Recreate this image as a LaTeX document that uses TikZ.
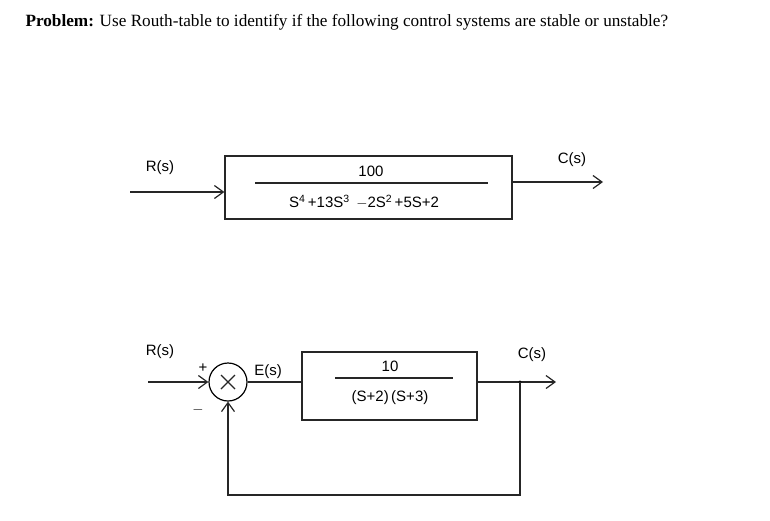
\documentclass[tikz,border=0pt]{standalone}
\usepackage{fontspec}
\setmainfont{Liberation Serif}
\newfontfamily\hand{Liberation Sans}
\usetikzlibrary{arrows.meta}
\begin{document}
\begin{tikzpicture}[x=1pt,y=-1pt,
  ln/.style={draw,line width=1.2pt,black!85},
  arr/.style={ln,-{Straight Barb[length=9pt,width=13pt,line width=1.2pt]}},
  lab/.style={font=\hand\fontsize{15}{17}\selectfont},
  blk/.style={draw,line width=1.2pt,black!85,inner sep=0pt}]
\useasboundingbox (0,0) rectangle (770,520);
\node[anchor=west,font=\fontsize{17.2}{19}\selectfont] (title) at (22,22) {\textbf{Problem:} Use Routh-table to identify if the following control systems are stable or unstable?};
% top
\node[blk,minimum width=287pt,minimum height=63pt] (g1) at (368.5,187.5) {};
\node[lab] (n1) at (371,171) {100};
\node[lab] (d1) at (364,202) {S\textsuperscript{4}\,+13S\textsuperscript{3}\, $-$2S\textsuperscript{2}\,+5S+2};
\draw[ln] (255,183) -- (488,183);
\coordinate (r1) at (130,192);
\draw[arr] (r1) -- (g1.west |- r1);
\node[lab] (R1) at (160,168) {R(s)};
\coordinate (c1) at (603,182);
\draw[arr] (g1.east |- c1) -- (c1);
\node[lab] (C1) at (572,160) {C(s)};
% bottom
\node[draw,circle,line width=1.2pt,minimum size=38pt,inner sep=0pt] (sum) at (228,382) {};
\draw[ln] ([shift={(-7,-7)}]sum.center) -- ([shift={(7,7)}]sum.center);
\draw[ln] ([shift={(-7,7)}]sum.center) -- ([shift={(7,-7)}]sum.center);
\node[blk,minimum width=175pt,minimum height=68pt] (g2) at (389.5,386) {};
\node[lab] (n2) at (390,366) {10};
\node[lab] (d2) at (390,398) {(S+2)\,(S+3)};
\draw[ln] (335,378) -- (453,378);
\coordinate (r2) at (148,382);
\draw[arr] (r2) -- (sum.west);
\node[lab] (R2) at (160,352) {R(s)};
\node[lab] (plus) at (203,368) {+};
\node[lab] (minus) at (198,410) {$-$};
\node[lab] (E) at (268,372) {E(s)};
\draw[ln] (sum.east) -- (g2.west |- sum.east);
\coordinate (c2) at (556,382);
\draw[arr] (g2.east |- c2) -- (c2);
\node[lab] (C2) at (532,355) {C(s)};
\coordinate (br) at (520,382);
\fill (br) circle (1.6pt);
\coordinate (fb1) at (520,495);
\coordinate (fb2) at (228,495);
\draw[arr] (br) -- (fb1) -- (fb2) -- (sum.south);
\end{tikzpicture}
\end{document}
